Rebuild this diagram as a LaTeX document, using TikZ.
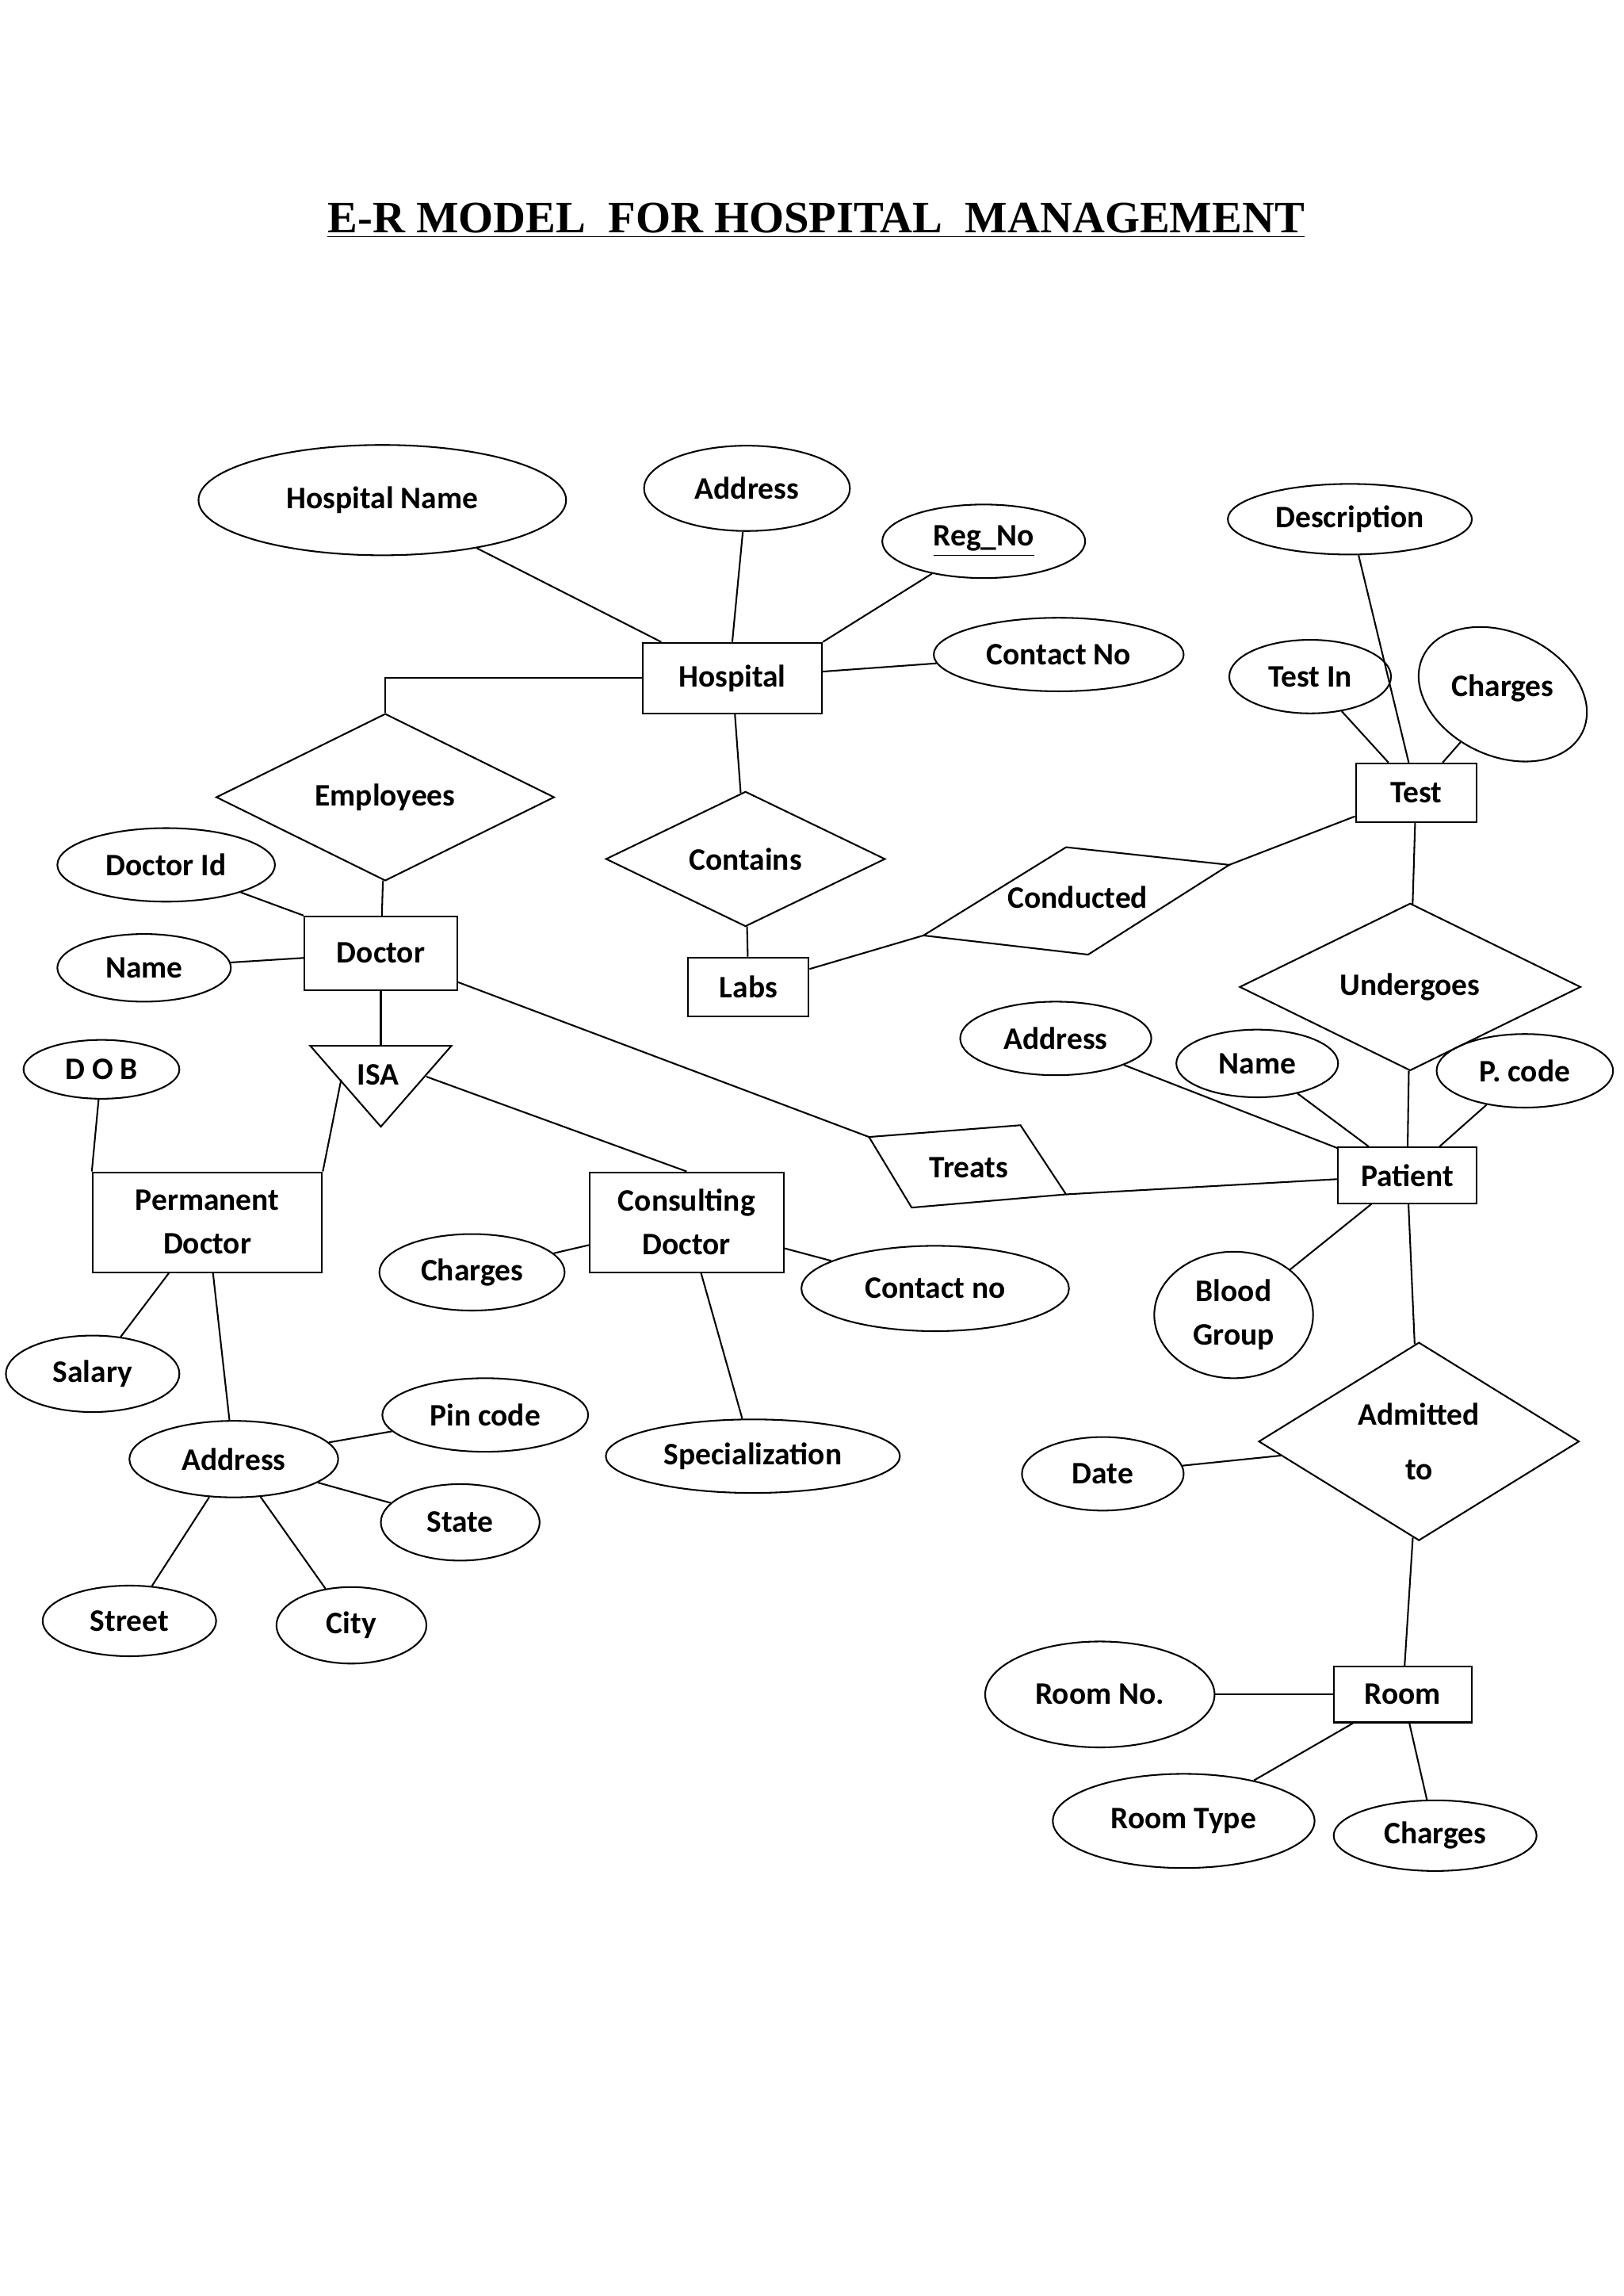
\documentclass[tikz,border=0pt]{standalone}
\usepackage{fontspec}
\setmainfont{Carlito}
\newfontfamily\titlefont{Liberation Serif}
\usetikzlibrary{positioning,shapes.geometric}

\tikzset{
  attr/.style 2 args={ellipse,draw,minimum width=#1*0.019cm,minimum height=#2*0.019cm,inner sep=0pt,align=center},
  ent/.style 2 args={rectangle,draw,minimum width=#1*0.019cm,minimum height=#2*0.019cm,inner sep=0pt,align=center},
  rel/.style 2 args={diamond,draw,minimum width=#1*0.019cm,minimum height=#2*0.019cm,inner sep=0pt,align=center},
  lbl/.style={inner sep=0pt,align=center}
}

\begin{document}
\begin{tikzpicture}[x=0.019cm,y=-0.019cm,semithick,font=\fontsize{11.5}{14}\selectfont\bfseries]
  \useasboundingbox (0,0) rectangle (1104,1561);

  \node[lbl] (title) at (555,150) {\titlefont\fontsize{16.5}{18}\selectfont\underline{E-R MODEL\ \ FOR HOSPITAL\ \ MANAGEMENT}};

  % hospital
  \node[ent={122}{48}]   (hosp)   at (498,461)  {Hospital};
  \node[attr={250}{75}]  (hname)  at (260,340)  {Hospital Name};
  \node[attr={140}{58}]  (haddr)  at (508,332)  {Address};
  \node[attr={138}{50}]  (regno)  at (669,368)  {\underline{Reg\_No}};
  \node[attr={170}{50}]  (hcont)  at (720,445)  {Contact No};
  \node[rel={230}{66}]   (emp)    at (262,542)  {Employees};
  \node[rel={190}{74}]   (cont)   at (507,584)  {Contains};
  \node[ent={82}{40}]    (labs)   at (509,671)  {Labs};

  % doctor
  \node[ent={104}{50}]   (doc)    at (259,648)  {Doctor};
  \node[attr={148}{50}]  (docid)  at (113,588)  {Doctor Id};
  \node[attr={118}{46}]  (dname)  at (98,658)   {Name};
  \coordinate (isaL) at (211,711);
  \coordinate (isaR) at (307,711);
  \coordinate (isaB) at (259,766);
  \draw (isaL) -- (isaR) -- (isaB) -- cycle;
  \node[lbl] (isa) at (257,731) {ISA};
  \coordinate (isaT) at (259,711);
  \coordinate (isaSL) at (232,734);
  \coordinate (isaSR) at (290,732);
  \node[ent={156}{68}]   (perm)   at (141,831)  {Permanent\\[2pt]Doctor};
  \node[ent={132}{68}]   (cons)   at (467,831)  {Consulting\\[2pt]Doctor};
  \node[attr={106}{40}]  (dob)    at (69,727)   {D O B};
  \node[attr={118}{52}]  (salary) at (63,934)   {Salary};
  \node[attr={142}{52}]  (daddr)  at (159,992)  {Address};
  \node[attr={140}{50}]  (pin)    at (330,962)  {Pin code};
  \node[attr={108}{52}]  (state)  at (313,1035) {State};
  \node[attr={118}{48}]  (street) at (88,1102)  {Street};
  \node[attr={102}{52}]  (city)   at (239,1105) {City};
  \node[attr={126}{52}]  (ccharge) at (321,865) {Charges};
  \node[attr={182}{58}]  (ccont)  at (636,876)  {Contact no};
  \node[attr={200}{50}]  (spec)   at (512,990)  {Specialization};

  % test
  \node[ent={82}{40}]    (test)   at (963,539)  {Test};
  \node[attr={166}{48}]  (desc)   at (918,353)  {Description};
  \node[attr={110}{50}]  (testin) at (891,460)  {Test In};
  \node[attr={120}{84},rotate=-25] (tcharge) at (1022,472) {};
  \node[lbl] (tchargel) at (1022,468) {Charges};
  \coordinate (cdL) at (628,636);
  \coordinate (cdT) at (725,576);
  \coordinate (cdR) at (836,588);
  \coordinate (cdB) at (740,649);
  \draw (cdL) -- (cdT) -- (cdR) -- (cdB) -- cycle;
  \node[lbl] (cond) at (733,610) {Conducted};
  \node[rel={232}{66}]   (under)  at (959,671)  {Undergoes};

  % patient
  \node[ent={94}{38}]    (pat)    at (957,799)  {Patient};
  \node[attr={130}{50}]  (paddr)  at (718,706)  {Address};
  \node[attr={110}{46}]  (pname)  at (855,723)  {Name};
  \node[attr={120}{50}]  (pcode)  at (1037,728) {P. code};
  \node[attr={108}{86}]  (blood)  at (839,894)  {Blood\\[2pt]Group};
  \coordinate (trL) at (591,773);
  \coordinate (trT) at (694,765);
  \coordinate (trR) at (725,812);
  \coordinate (trB) at (620,821);
  \draw (trL) -- (trT) -- (trR) -- (trB) -- cycle;
  \node[lbl] (treats) at (659,794) {Treats};
  \node[rel={218}{116}]  (adm)    at (965,980)  {Admitted\\[6pt]to};
  \node[attr={110}{50}]  (date)   at (750,1002) {Date};

  % room
  \node[ent={94}{38}]    (room)   at (954,1152) {Room};
  \node[attr={156}{72}]  (roomno) at (748,1152) {Room No.};
  \node[attr={178}{64}]  (rtype)  at (805,1238) {Room Type};
  \node[attr={138}{48}]  (rcharge) at (976,1248) {Charges};

  % connectors
  \draw (hname) -- (hosp);
  \draw (haddr) -- (hosp.north);
  \draw (regno) -- (hosp.north east);
  \draw (hcont) -- (hosp);
  \draw (hosp.west) -| (emp.north);
  \draw (hosp) -- (cont);
  \draw (cont) -- (labs);
  \draw (labs) -- (cdL);
  \draw (cdR) -- (test);
  \draw (emp) -- (doc);
  \draw (docid) -- (doc.north west);
  \draw (dname) -- (doc);
  \draw (doc) -- (isaT);
  \draw (isaSL) -- (perm.north east);
  \draw (isaSR) -- (cons.north);
  \draw (doc) -- (trL);
  \draw (trR) -- (pat);
  \draw (dob) -- (perm.north west);
  \draw (salary) -- (perm);
  \draw (perm) -- (daddr);
  \draw (daddr) -- (pin);
  \draw (daddr) -- (state);
  \draw (daddr) -- (street);
  \draw (daddr) -- (city);
  \draw (ccharge) -- (cons);
  \draw (ccont) -- (cons);
  \draw (cons) -- (spec);
  \draw (desc) -- (test);
  \draw (testin) -- (test);
  \draw (tcharge) -- (test);
  \draw (test) -- (under);
  \draw (under) -- (pat);
  \draw (paddr) -- (pat);
  \draw (pname) -- (pat);
  \draw (pcode) -- (pat);
  \draw (blood) -- (pat);
  \draw (pat) -- (adm);
  \draw (date) -- (adm);
  \draw (adm) -- (room);
  \draw (roomno) -- (room);
  \draw (rtype) -- (room);
  \draw (rcharge) -- (room);
\end{tikzpicture}
\end{document}
